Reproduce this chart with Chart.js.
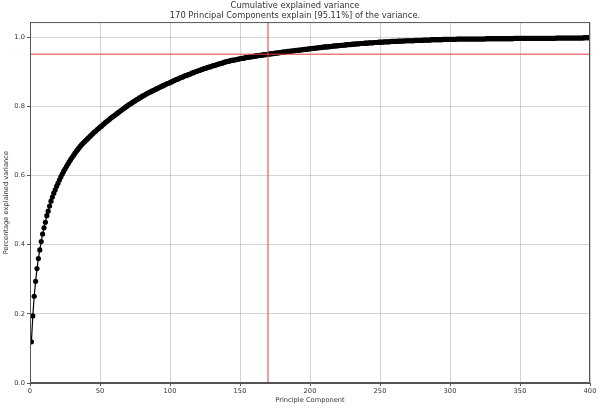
<!DOCTYPE html>
<html>
<head>
<meta charset="utf-8">
<script src="https://cdn.jsdelivr.net/npm/chart.js@4.4.0/dist/chart.umd.min.js"></script>
<style>
html, body { margin: 0; padding: 0; background: #fff; }
</style>
</head>
<body>
<canvas id="varianceChart" width="607" height="408"></canvas>
<script>
"use strict";
// cumulative explained variance (components 1..400)
var cumVariance = [
    0.119,0.194,0.251,0.294,0.331,0.360,0.385,0.409,0.431,0.449,
    0.465,0.484,0.497,0.512,0.526,0.538,0.549,0.559,0.569,0.578,
    0.587,0.596,0.604,0.612,0.619,0.626,0.633,0.640,0.646,0.652,
    0.658,0.664,0.670,0.675,0.680,0.685,0.690,0.694,0.698,0.702,
    0.706,0.710,0.714,0.718,0.722,0.726,0.729,0.733,0.736,0.740,
    0.743,0.747,0.750,0.754,0.757,0.760,0.764,0.767,0.770,0.773,
    0.776,0.779,0.782,0.785,0.788,0.791,0.794,0.797,0.800,0.803,
    0.806,0.808,0.811,0.814,0.816,0.819,0.821,0.824,0.826,0.829,
    0.831,0.833,0.836,0.838,0.840,0.842,0.844,0.846,0.848,0.850,
    0.852,0.854,0.856,0.858,0.860,0.862,0.864,0.866,0.867,0.869,
    0.871,0.873,0.875,0.877,0.878,0.880,0.882,0.884,0.885,0.887,
    0.889,0.890,0.892,0.893,0.895,0.897,0.898,0.900,0.901,0.903,
    0.904,0.906,0.907,0.909,0.910,0.911,0.913,0.914,0.915,0.917,
    0.918,0.919,0.920,0.922,0.923,0.924,0.925,0.926,0.928,0.929,
    0.930,0.931,0.932,0.933,0.934,0.934,0.935,0.936,0.937,0.938,
    0.939,0.939,0.940,0.941,0.942,0.942,0.943,0.944,0.944,0.945,
    0.946,0.946,0.947,0.948,0.948,0.949,0.949,0.950,0.950,0.951,
    0.952,0.952,0.953,0.953,0.954,0.954,0.955,0.955,0.956,0.957,
    0.957,0.958,0.958,0.959,0.959,0.960,0.960,0.961,0.961,0.962,
    0.962,0.963,0.963,0.964,0.964,0.965,0.965,0.966,0.966,0.967,
    0.967,0.968,0.968,0.969,0.969,0.970,0.970,0.971,0.971,0.972,
    0.972,0.972,0.973,0.973,0.974,0.974,0.975,0.975,0.975,0.976,
    0.976,0.977,0.977,0.977,0.978,0.978,0.979,0.979,0.979,0.980,
    0.980,0.980,0.981,0.981,0.981,0.982,0.982,0.982,0.983,0.983,
    0.983,0.984,0.984,0.984,0.984,0.985,0.985,0.985,0.986,0.986,
    0.986,0.986,0.987,0.987,0.987,0.987,0.987,0.988,0.988,0.988,
    0.988,0.988,0.989,0.989,0.989,0.989,0.989,0.990,0.990,0.990,
    0.990,0.990,0.990,0.990,0.991,0.991,0.991,0.991,0.991,0.991,
    0.992,0.992,0.992,0.992,0.992,0.992,0.993,0.993,0.993,0.993,
    0.993,0.993,0.993,0.993,0.994,0.994,0.994,0.994,0.994,0.994,
    0.994,0.994,0.994,0.994,0.995,0.995,0.995,0.995,0.995,0.995,
    0.995,0.995,0.995,0.995,0.995,0.995,0.995,0.995,0.995,0.995,
    0.995,0.995,0.995,0.995,0.995,0.996,0.996,0.996,0.996,0.996,
    0.996,0.996,0.996,0.996,0.996,0.996,0.996,0.996,0.996,0.996,
    0.996,0.996,0.996,0.996,0.996,0.997,0.997,0.997,0.997,0.997,
    0.997,0.997,0.997,0.997,0.997,0.997,0.997,0.997,0.997,0.997,
    0.997,0.997,0.997,0.997,0.997,0.997,0.997,0.997,0.997,0.997,
    0.997,0.997,0.997,0.997,0.997,0.998,0.998,0.998,0.998,0.998,
    0.998,0.998,0.998,0.998,0.998,0.998,0.998,0.998,0.998,0.998,
    0.998,0.998,0.998,0.998,0.998,0.999,0.999,0.999,0.999,0.999
];
var components = cumVariance.map(function (v, i) { return i + 1; });

// chosen cut-off
var nChosen = 170;
var explained = 0.9511;

// axis ranges / ticks
var xRange = [0, 400];
var yRange = [0, 1.044];
var xStep = 50;
var yStep = 0.2;

var textColor = "#333";
var gridColor = "rgba(0,0,0,0.17)";
var frameColor = "#555";

var curvePoints = components.map(function (c, i) { return { x: c, y: cumVariance[i] }; });

// box round the plot, like the matplotlib spines
var frame = {
    id: "frame",
    afterDraw: function (chart) {
        var a = chart.chartArea, c = chart.ctx;
        c.save();
        c.strokeStyle = frameColor;
        c.lineWidth = 1;
        c.strokeRect(a.left + 0.5, a.top + 0.5, a.right - a.left - 1, a.bottom - a.top - 1);
        c.restore();
    }
};

var ctx = document.getElementById("varianceChart");
var varianceChart = new Chart(ctx, {
    type: "line",
    data: {
        datasets: [
            {
                data: [{ x: xRange[0], y: explained }, { x: xRange[1], y: explained }],
                borderColor: "#e23a3a",
                borderWidth: 1,
                pointRadius: 0
            },
            {
                data: [{ x: nChosen, y: yRange[0] }, { x: nChosen, y: yRange[1] }],
                borderColor: "#e23a3a",
                borderWidth: 1,
                pointRadius: 0
            },
            {
                data: curvePoints,
                borderColor: "#000",
                borderWidth: 1.2,
                pointRadius: 2.6,
                pointBackgroundColor: "#000",
                pointBorderWidth: 0,
                tension: 0
            }
        ]
    },
    options: {
        responsive: false,
        animation: false,
        layout: { padding: { left: 0, right: 17, top: 0, bottom: 0 } },
        plugins: {
            legend: { display: false },
            tooltip: { enabled: false },
            title: {
                display: true,
                text: ["Cumulative explained variance",
                       nChosen + " Principal Components explain [" + (explained * 100).toFixed(2) + "%] of the variance."],
                color: textColor,
                font: { family: "DejaVu Sans", size: 8.3, weight: "normal", lineHeight: 1.3 },
                padding: { top: 0, bottom: 0.5 }
            }
        },
        scales: {
            x: {
                type: "linear",
                min: xRange[0],
                max: xRange[1],
                afterFit: function (s) { s.height = 25; },
                ticks: {
                    stepSize: xStep,
                    color: textColor,
                    padding: 1,
                    maxRotation: 0,
                    font: { family: "DejaVu Sans", size: 6.7 }
                },
                grid: { color: gridColor, tickColor: frameColor, tickLength: 3 },
                border: { color: frameColor },
                title: {
                    display: true,
                    text: "Principle Component",
                    color: textColor,
                    font: { family: "DejaVu Sans", size: 6.7 },
                    padding: { top: 0, bottom: 4 }
                }
            },
            y: {
                type: "linear",
                min: yRange[0],
                max: yRange[1],
                afterFit: function (s) { s.width = 30; },
                ticks: {
                    stepSize: yStep,
                    includeBounds: false,
                    color: textColor,
                    padding: 2,
                    font: { family: "DejaVu Sans", size: 6.7 },
                    callback: function (v) { return v.toFixed(1); }
                },
                grid: { color: gridColor, tickColor: frameColor, tickLength: 3 },
                border: { color: frameColor },
                title: {
                    display: true,
                    text: "Percentage explained variance",
                    color: textColor,
                    font: { family: "DejaVu Sans", size: 6.7 },
                    padding: { top: 2, bottom: 0 }
                }
            }
        }
    },
    plugins: [frame]
});
</script>
</body>
</html>
